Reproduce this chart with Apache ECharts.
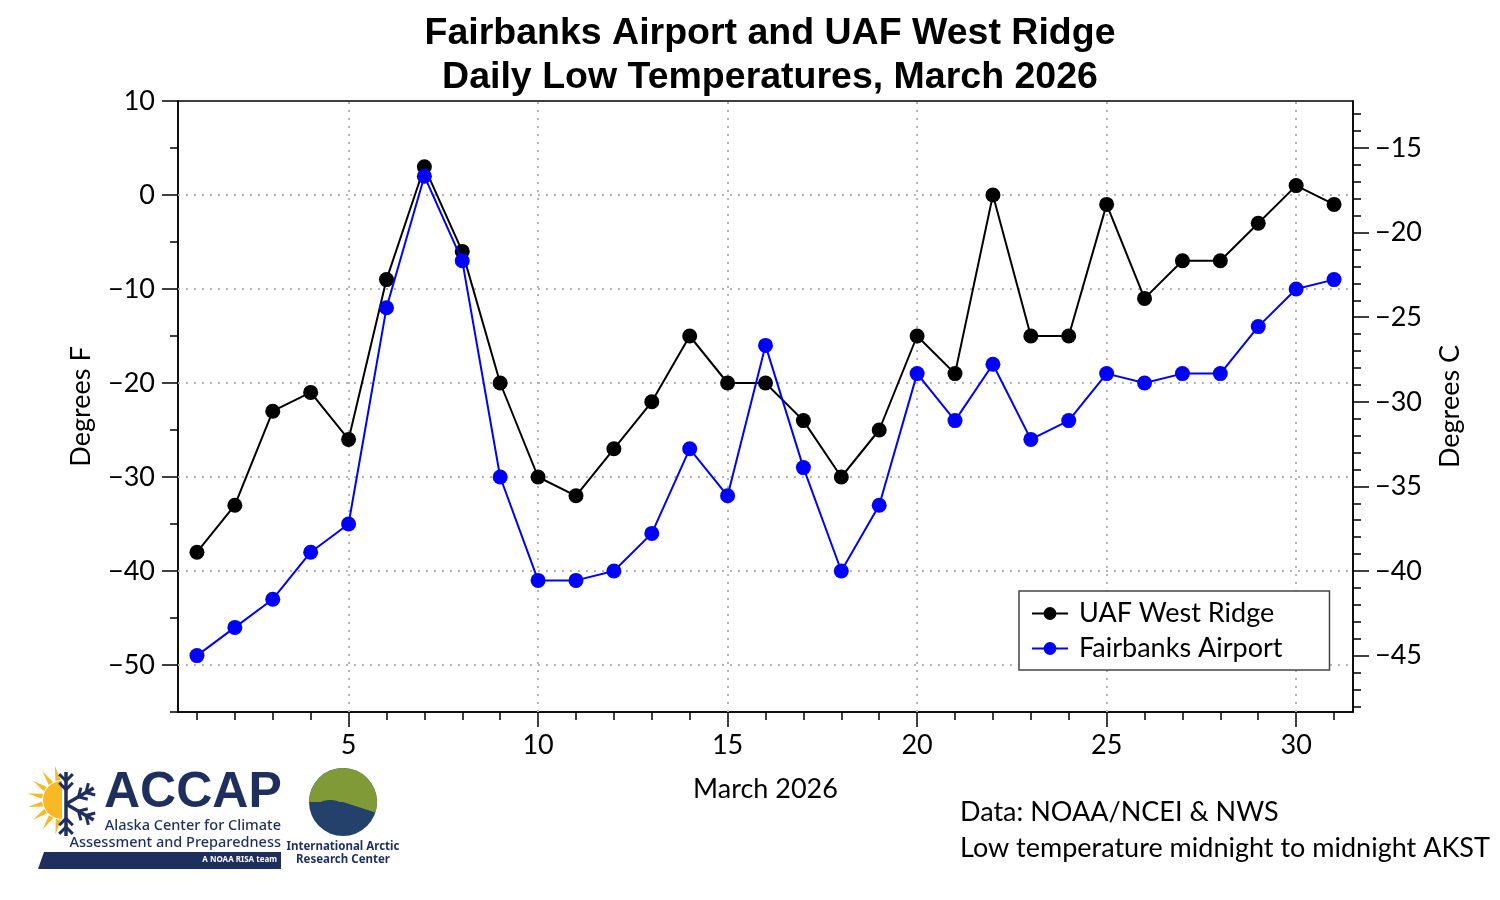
<!DOCTYPE html>
<html>
<head>
<meta charset="utf-8">
<script src="https://cdn.jsdelivr.net/npm/echarts@6/dist/echarts.min.js"></script>
<style>html,body{margin:0;padding:0;background:#fff}#c{width:1500px;height:900px}</style>
</head>
<body>
<div id="c"></div>
<script>
const days = ['1','2','3','4','5','6','7','8','9','10','11','12','13','14','15','16','17','18','19','20','21','22','23','24','25','26','27','28','29','30','31'];
const uafWestRidge = [-38,-33,-23,-21,-26,-9,3,-6,-20,-30,-32,-27,-22,-15,-20,-20,-24,-30,-25,-15,-19,0,-15,-15,-1,-11,-7,-7,-3,1,-1];
const fairbanksAirport = [-49,-46,-43,-38,-35,-12,2,-7,-30,-41,-41,-40,-36,-27,-32,-16,-29,-40,-33,-19,-24,-18,-26,-24,-19,-20,-19,-19,-14,-10,-9];
const xMajorDays = ['5','10','15','20','25','30'];
const fMin = -55, fMax = 10;
const fGridValues = [0,-10,-20,-30,-40,-50];
const fMajorTicks = [-50,-40,-30,-20,-10,0,10];
const cLabelValues = [-45,-40,-35,-30,-25,-20,-15];
const cMinorTicks = [-48,-47,-46,-45,-44,-43,-42,-41,-40,-39,-38,-37,-36,-35,-34,-33,-32,-31,-30,-29,-28,-27,-26,-25,-24,-23,-22,-21,-20,-19,-18,-17,-16,-15,-14,-13];

const f2c = f => (f - 32) * 5 / 9;
const minus = v => String(v).replace('-', '\u2212');
const FONT = 'Lato';
const FS = 27;
const NAVY = '#1e2f5e';

// decorative snowflake (logo) arms
function snowflake(cx, cy, R) {
  const parts = [];
  [-90, -30, 30, 90].forEach(deg => {
    const a = deg * Math.PI / 180;
    const ex = cx + R * Math.cos(a), ey = cy + R * Math.sin(a);
    parts.push({type: 'line', shape: {x1: cx, y1: cy, x2: ex, y2: ey}, style: {stroke: NAVY, lineWidth: 3.5}});
    [0.45, 0.72].forEach(f => {
      const bx = cx + R * f * Math.cos(a), by = cy + R * f * Math.sin(a);
      [-45, 45].forEach(d => {
        const b = a + d * Math.PI / 180, L = R * 0.3;
        parts.push({type: 'line', shape: {x1: bx, y1: by, x2: bx + L * Math.cos(b), y2: by + L * Math.sin(b)}, style: {stroke: NAVY, lineWidth: 3}});
      });
    });
  });
  return {type: 'group', children: parts};
}

const chart = echarts.init(document.getElementById('c'));
const gridStyle = {type: [2, 6], color: '#b5b5b5', width: 2};
const tickStyle = {color: '#000', width: 1.5};
chart.setOption({
  animation: false,
  backgroundColor: '#fff',
  title: {
    text: 'Fairbanks Airport and UAF West Ridge\nDaily Low Temperatures, March 2026',
    left: 765, top: 7, textAlign: 'center',
    textStyle: {fontFamily: 'Liberation Sans', fontWeight: 'bold', fontSize: 37.5, lineHeight: 44, color: '#000'}
  },
  grid: {left: 178, right: 147, top: 101, bottom: 188, show: true, borderColor: '#000', borderWidth: 1.5, backgroundColor: 'transparent'},
  legend: {
    data: ['UAF West Ridge', 'Fairbanks Airport'],
    orient: 'vertical', left: 1019, top: 591,
    borderColor: '#444', borderWidth: 1.5, borderRadius: 0,
    padding: [9, 47, 8, 12], itemGap: 8, itemWidth: 36, itemHeight: 16,
    backgroundColor: '#fff',
    textStyle: {fontFamily: FONT, fontSize: FS, color: '#000', padding: [0, 0, 0, 6]}
  },
  xAxis: [
    {
      type: 'category', data: days, boundaryGap: true, position: 'bottom',
      name: 'March 2026', nameLocation: 'middle', nameGap: 64,
      nameTextStyle: {fontFamily: FONT, fontSize: FS, color: '#000'},
      axisLine: {show: true, onZero: false, lineStyle: tickStyle},
      axisTick: {show: true, alignWithLabel: true, interval: 0, length: 8, lineStyle: tickStyle},
      axisLabel: {interval: (i, v) => xMajorDays.includes(v), margin: 20, fontFamily: FONT, fontSize: FS, color: '#000'},
      splitLine: {show: false}
    },
    {
      type: 'category', data: days, boundaryGap: true, position: 'bottom',
      axisLine: {show: false, onZero: false},
      axisTick: {show: true, alignWithLabel: true, interval: (i, v) => xMajorDays.includes(v), length: 15, lineStyle: tickStyle},
      axisLabel: {show: false}, splitLine: {show: false}
    }
  ],
  yAxis: [
    {
      type: 'value', min: fMin, max: fMax, interval: 5, position: 'left',
      name: 'Degrees F', nameLocation: 'middle', nameGap: 83, nameRotate: 90,
      nameTextStyle: {fontFamily: FONT, fontSize: FS, color: '#000'},
      axisLine: {show: true, onZero: false, lineStyle: tickStyle},
      axisTick: {show: true, length: 8, lineStyle: tickStyle},
      axisLabel: {formatter: v => (v % 10 === 0 ? minus(v) : ''), margin: 23, fontFamily: FONT, fontSize: FS, color: '#000', showMinLabel: true, showMaxLabel: true},
      splitLine: {show: false}
    },
    {
      type: 'value', min: fMin, max: fMax, position: 'left',
      axisLine: {show: false, onZero: false},
      axisTick: {show: true, length: 16, customValues: fMajorTicks, lineStyle: tickStyle},
      axisLabel: {show: false}, splitLine: {show: false}
    },
    {
      type: 'value', min: f2c(fMin), max: f2c(fMax), position: 'right',
      name: 'Degrees C', nameLocation: 'middle', nameGap: 84, nameRotate: 90,
      nameTextStyle: {fontFamily: FONT, fontSize: FS, color: '#000'},
      axisLine: {show: true, onZero: false, lineStyle: tickStyle},
      axisTick: {show: true, length: 8, customValues: cMinorTicks, lineStyle: tickStyle},
      axisLabel: {customValues: cLabelValues, formatter: v => minus(v), margin: 22, fontFamily: FONT, fontSize: FS, color: '#000'},
      splitLine: {show: false}
    },
    {
      type: 'value', min: f2c(fMin), max: f2c(fMax), position: 'right',
      axisLine: {show: false, onZero: false},
      axisTick: {show: true, length: 16, customValues: cLabelValues, lineStyle: tickStyle},
      axisLabel: {show: false}, splitLine: {show: false}
    }
  ],
  series: [
    {
      name: 'grid', type: 'line', data: [], silent: true, z: 1,
      markLine: {
        silent: true, z: 1, symbol: ['none', 'none'], label: {show: false},
        lineStyle: gridStyle, animation: false,
        data: xMajorDays.map(d => ({xAxis: d})).concat(fGridValues.map(v => ({yAxis: v})))
      }
    },
    {
      name: 'UAF West Ridge', type: 'line', data: uafWestRidge, z: 3,
      symbol: 'circle', symbolSize: 15,
      itemStyle: {color: '#000'}, lineStyle: {color: '#000', width: 2}
    },
    {
      name: 'Fairbanks Airport', type: 'line', data: fairbanksAirport, z: 4,
      symbol: 'circle', symbolSize: 15,
      itemStyle: {color: '#0000ff'}, lineStyle: {color: '#0000ff', width: 2}
    }
  ],
  graphic: [
    {type: 'text', left: 960, top: 799, style: {text: 'Data: NOAA/NCEI & NWS', fontFamily: FONT, fontSize: FS, fill: '#000'}},
    {type: 'text', left: 960, top: 835, style: {text: 'Low temperature midnight to midnight AKST', fontFamily: FONT, fontSize: FS, fill: '#000'}},
    // ACCAP logo
    {type: 'sector', shape: {cx: 62, cy: 800, r: 19, r0: 0, startAngle: Math.PI * 0.5, endAngle: Math.PI * 1.5}, style: {fill: '#f7b924'}},
    {type: 'group', children: [0,1,2,3,4,5,6,7].map(k => {
      const a = Math.PI * (0.56 + k * 0.125);
      return {type: 'polygon', shape: {points: [
        [62 + 20 * Math.cos(a - 0.13), 800 + 20 * Math.sin(a - 0.13)],
        [62 + 35 * Math.cos(a), 800 + 35 * Math.sin(a)],
        [62 + 20 * Math.cos(a + 0.13), 800 + 20 * Math.sin(a + 0.13)]
      ]}, style: {fill: '#f7b924'}};
    })},
    snowflake(66, 804, 32),
    {type: 'text', left: 104, top: 768, style: {text: 'ACCAP', fontFamily: 'Liberation Sans', fontWeight: 'bold', fontSize: 50, fill: NAVY}},
    {type: 'text', x: 281, y: 818, style: {text: 'Alaska Center for Climate', textAlign: 'right', fontFamily: 'Noto Sans', fontWeight: 500, fontSize: 14.5, fill: NAVY}},
    {type: 'text', x: 281, y: 835, style: {text: 'Assessment and Preparedness', textAlign: 'right', fontFamily: 'Noto Sans', fontWeight: 500, fontSize: 14.5, fill: NAVY}},
    {type: 'polygon', shape: {points: [[38, 869], [44, 852], [281, 852], [281, 869]]}, style: {fill: NAVY}},
    {type: 'text', x: 277, y: 856, style: {text: 'A NOAA RISA team', textAlign: 'right', fontFamily: 'Noto Sans', fontWeight: 'bold', fontSize: 8, fill: '#fff'}},
    // IARC logo
    {type: 'circle', shape: {cx: 343, cy: 802, r: 34}, style: {fill: '#24416b'}},
    {type: 'sector', shape: {cx: 343, cy: 802, r: 34, r0: 0, startAngle: Math.PI * 1.0, endAngle: Math.PI * 2.1}, style: {fill: '#7f9a36'}},
    {type: 'ellipse', shape: {cx: 330, cy: 813, rx: 18, ry: 13}, style: {fill: '#24416b'}},
    {type: 'text', x: 343, y: 841, style: {text: 'International Arctic', textAlign: 'center', fontFamily: 'Noto Sans', fontWeight: 'bold', fontSize: 11.5, fill: NAVY}},
    {type: 'text', x: 343, y: 854, style: {text: 'Research Center', textAlign: 'center', fontFamily: 'Noto Sans', fontWeight: 'bold', fontSize: 11.5, fill: NAVY}}
  ]
});
</script>
</body>
</html>
